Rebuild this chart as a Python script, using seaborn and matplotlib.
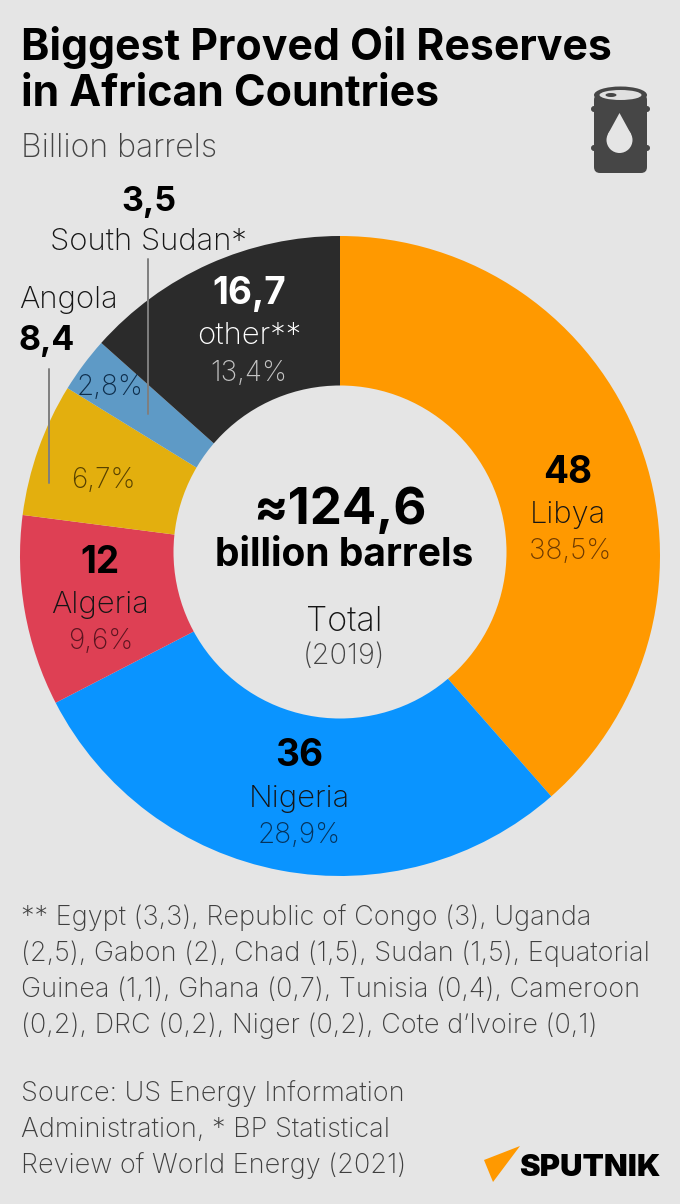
from matplotlib import pyplot as plt
from matplotlib.patches import FancyBboxPatch, Polygon, Ellipse, Circle
import seaborn as sns

BG = "#E5E5E5"
W, H = 680, 1204

# Data
countries = ["Libya", "Nigeria", "Algeria", "Angola", "South Sudan*", "other**"]
reserves = [48, 36, 12, 8.4, 3.5, 16.7]
value_labels = ["48", "36", "12", "8,4", "3,5", "16,7"]
share_labels = ["38,5%", "28,9%", "9,6%", "6,7%", "2,8%", "13,4%"]
slice_colors = ["#FF9900", "#0A94FF", "#DE4054", "#E3AF0E", "#5E9AC6", "#2B2B2B"]
footnote = [
    "** Egypt (3,3), Republic of Congo (3), Uganda",
    "(2,5), Gabon (2), Chad (1,5), Sudan (1,5), Equatorial",
    "Guinea (1,1), Ghana (0,7), Tunisia (0,4), Cameroon",
    "(0,2), DRC (0,2), Niger (0,2), Cote d\u2019Ivoire (0,1)",
]
source = [
    "Source: US Energy Information",
    "Administration, * BP Statistical",
    "Review of World Energy (2021)",
]

sns.set_theme(style="white", rc={"figure.facecolor": BG, "axes.facecolor": BG})
plt.rcParams["font.family"] = ["Inter", "DejaVu Sans"]

fig = plt.figure(figsize=(W / 100, H / 100), dpi=100)
ax = fig.add_axes([0, 0, 1, 1])


def put(x, y, s, px, color="black", weight="normal", ha="center"):
    # x, y in picture pixels, y is the baseline
    ax.text(x, H - y - 1, s, fontsize=px * 0.72, color=color, fontweight=weight, ha=ha, va="baseline")


ax.pie(
    reserves,
    colors=sns.color_palette(slice_colors),
    startangle=90,
    counterclock=False,
    center=(340, H - 556),
    radius=320,
    wedgeprops={"edgecolor": "none", "linewidth": 0},
    frame=True,
)
ax.set_xlim(0, W)
ax.set_ylim(0, H)
ax.set_aspect("auto")
ax.axis("off")

# The hole sits a little above the centre of the ring
ax.add_patch(Circle((340, H - 552), 166.5, fc=BG, ec="none"))

# Title
put(21, 59, "Biggest Proved Oil Reserves", 42.8, weight="bold", ha="left")
put(21, 105, "in African Countries", 42.8, weight="bold", ha="left")
put(21, 156, "Billion barrels", 32, color="#444444", weight="light", ha="left")

# Barrel icon
dark = "#464646"
ax.add_patch(FancyBboxPatch((594, H - 173), 53, 79, boxstyle="round,pad=0,rounding_size=6", fc=dark, ec="none"))
ax.add_patch(Ellipse((620.5, H - 95), 53, 17, fc=dark, ec="none"))
ax.add_patch(Ellipse((620.5, H - 95), 42, 10, fc="#E0E0E0", ec="none"))
ax.add_patch(Ellipse((611, H - 95), 11, 4, fc=dark, ec="none"))
for y in (109, 148):
    ax.add_patch(FancyBboxPatch((591, H - y - 3), 59, 6, boxstyle="round,pad=0,rounding_size=3", fc=dark, ec="none"))
ax.add_patch(Circle((619.5, H - 140), 13, fc=BG, ec="none"))
ax.add_patch(Polygon([(608, H - 134), (619.5, H - 113), (631, H - 134)], fc=BG, ec="none"))

# Leader lines
ax.plot([148, 148], [H - 259, H - 414], color="#7F7F7F", lw=1.4)
ax.plot([49, 49], [H - 369, H - 483], color="#7F7F7F", lw=1.4)

# Slice labels
put(568, 482, value_labels[0], 37, weight="bold")
put(568, 522, countries[0], 31, color="#151515", weight="light")
put(570, 558, share_labels[0], 28, color="#6E3A00", weight="light")

put(299, 765, value_labels[1], 37, weight="bold")
put(299, 806, countries[1], 31, color="#151515", weight="light")
put(299, 842, share_labels[1], 28, color="#05335C", weight="light")

put(100, 572, value_labels[2], 37, weight="bold")
put(100, 612, countries[2], 31, color="#151515", weight="light")
put(101, 648, share_labels[2], 28, color="#5C1420", weight="light")

put(19, 307, countries[3], 31, color="#151515", weight="light", ha="left")
put(19, 349, value_labels[3], 34, weight="bold", ha="left")
put(103, 487, share_labels[3], 28, color="#574100", weight="light")

put(149, 210, value_labels[4], 34, weight="bold")
put(148, 249, countries[4], 31, color="#151515", weight="light")
put(110, 394, share_labels[4], 28, color="#0E2E4C", weight="light")

put(249, 303, value_labels[5], 37, weight="bold", color="white")
put(249, 343, countries[5], 31, color="white", weight="light")
put(249, 380, share_labels[5], 28, color="#C4C4C4", weight="light")

# Centre
put(340, 523, "\u2248124,6", 51, weight="bold")
put(344, 565, "billion barrels", 39, weight="bold")
put(344, 630, "Total", 34, color="#151515", weight="light")
put(344, 663, "(2019)", 29, color="#444444", weight="light")

# Notes
for i, line in enumerate(footnote):
    put(21, 924 + 36 * i, line, 27.1, color="#3F3F3F", weight="light", ha="left")
for i, line in enumerate(source):
    put(21, 1100 + 36 * i, line, 27.1, color="#3F3F3F", weight="light", ha="left")

# Logo
ax.add_patch(Polygon([(484, H - 1160), (520, H - 1146), (493, H - 1182)], fc="#FF9900", ec="none"))
put(519, 1175, "SPUTNIK", 31, weight="black", ha="left")

fig.savefig("out.png", dpi=100, facecolor=BG)
